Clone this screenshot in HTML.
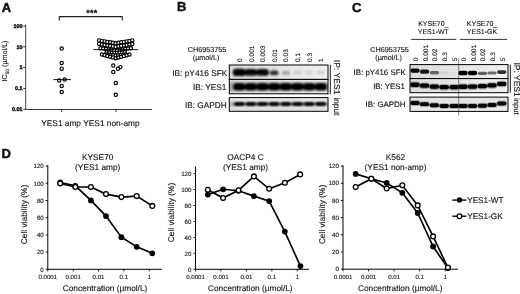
<!DOCTYPE html>
<html><head><meta charset="utf-8"><title>Figure</title>
<style>html,body{margin:0;padding:0;background:#fff;overflow:hidden}svg{display:block}text{font-family:"Liberation Sans",sans-serif;fill:#111;text-rendering:geometricPrecision}</style>
</head><body>
<svg width="520" height="294" viewBox="0 0 520 294">
<rect width="520" height="294" fill="#fff"/>
<text transform="translate(1.7 11.5)" font-size="13" text-anchor="start" font-weight="bold"  stroke="#111" stroke-width="0.45">A</text>
<text transform="translate(177.1 11.3)" font-size="13" text-anchor="start" font-weight="bold"  stroke="#111" stroke-width="0.45">B</text>
<text transform="translate(352.1 11.5)" font-size="13" text-anchor="start" font-weight="bold"  stroke="#111" stroke-width="0.45">C</text>
<text transform="translate(1.4 158.3)" font-size="13" text-anchor="start" font-weight="bold"  stroke="#111" stroke-width="0.45">D</text>
<line x1="25.7" y1="24.5" x2="25.7" y2="109.5" stroke="#444" stroke-width="1"/>
<line x1="25.7" y1="109.5" x2="152" y2="109.5" stroke="#000" stroke-width="0.8"/>
<line x1="23.2" y1="25.999999999999993" x2="25.7" y2="25.999999999999993" stroke="#000" stroke-width="0.8"/>
<text transform="translate(22.599999999999998 27.799999999999994)" font-size="5.4" text-anchor="end" font-weight="bold"  stroke="#111" stroke-width="0.4">100</text>
<line x1="23.2" y1="46.8" x2="25.7" y2="46.8" stroke="#000" stroke-width="0.8"/>
<text transform="translate(22.599999999999998 48.599999999999994)" font-size="5.4" text-anchor="end" font-weight="bold"  stroke="#111" stroke-width="0.4">10</text>
<line x1="23.2" y1="67.6" x2="25.7" y2="67.6" stroke="#000" stroke-width="0.8"/>
<text transform="translate(22.599999999999998 69.39999999999999)" font-size="5.4" text-anchor="end" font-weight="bold"  stroke="#111" stroke-width="0.4">1</text>
<line x1="23.2" y1="88.39999999999999" x2="25.7" y2="88.39999999999999" stroke="#000" stroke-width="0.8"/>
<text transform="translate(22.599999999999998 90.19999999999999)" font-size="5.4" text-anchor="end" font-weight="bold"  stroke="#111" stroke-width="0.4">0.1</text>
<line x1="23.2" y1="109.19999999999999" x2="25.7" y2="109.19999999999999" stroke="#000" stroke-width="0.8"/>
<text transform="translate(22.599999999999998 110.99999999999999)" font-size="5.4" text-anchor="end" font-weight="bold"  stroke="#111" stroke-width="0.4">0.01</text>
<line x1="61.7" y1="109.5" x2="61.7" y2="112.0" stroke="#000" stroke-width="0.8"/>
<line x1="115.9" y1="109.5" x2="115.9" y2="112.0" stroke="#000" stroke-width="0.8"/>
<text transform="translate(41.3 126.4)" font-size="8.3" text-anchor="start" font-weight="normal"  stroke="#111" stroke-width="0.12">YES1 amp</text>
<text transform="translate(83.3 126.4)" font-size="8.3" text-anchor="start" font-weight="normal"  stroke="#111" stroke-width="0.12">YES1 non-amp</text>
<text font-size="7.2" text-anchor="middle" stroke="#111" stroke-width="0.12" transform="translate(7.1 61) rotate(-90)">IC<tspan font-size="4.8" dy="1.5">50</tspan><tspan dy="-1.5"> (µmol/L)</tspan></text>
<path d="M59.3 20.6 V16.6 H122.3 V20.6" fill="none" stroke="#222" stroke-width="1.05"/>
<text transform="translate(91.9 15.9)" font-size="9" text-anchor="middle" font-weight="bold" letter-spacing="0.3" stroke="#111" stroke-width="0.15">***</text>
<circle cx="61.7" cy="48.6" r="1.65" fill="#fff" stroke="#000" stroke-width="1.15"/>
<circle cx="61.7" cy="63.0" r="1.65" fill="#fff" stroke="#000" stroke-width="1.15"/>
<circle cx="61.7" cy="68.7" r="1.65" fill="#fff" stroke="#000" stroke-width="1.15"/>
<circle cx="59.2" cy="80.5" r="1.65" fill="#fff" stroke="#000" stroke-width="1.15"/>
<circle cx="64.7" cy="79.5" r="1.65" fill="#fff" stroke="#000" stroke-width="1.15"/>
<circle cx="61.7" cy="86.0" r="1.65" fill="#fff" stroke="#000" stroke-width="1.15"/>
<circle cx="61.7" cy="92.0" r="1.65" fill="#fff" stroke="#000" stroke-width="1.15"/>
<line x1="53.4" y1="79.6" x2="71" y2="79.6" stroke="#000" stroke-width="0.9"/>
<circle cx="99.1" cy="40.4" r="1.65" fill="#fff" stroke="#000" stroke-width="1.15"/>
<circle cx="101.9" cy="40.9" r="1.65" fill="#fff" stroke="#000" stroke-width="1.15"/>
<circle cx="104.7" cy="41.4" r="1.65" fill="#fff" stroke="#000" stroke-width="1.15"/>
<circle cx="107.4" cy="41.9" r="1.65" fill="#fff" stroke="#000" stroke-width="1.15"/>
<circle cx="110.2" cy="42.3" r="1.65" fill="#fff" stroke="#000" stroke-width="1.15"/>
<circle cx="112.9" cy="42.8" r="1.65" fill="#fff" stroke="#000" stroke-width="1.15"/>
<circle cx="115.7" cy="43.3" r="1.65" fill="#fff" stroke="#000" stroke-width="1.15"/>
<circle cx="118.5" cy="42.8" r="1.65" fill="#fff" stroke="#000" stroke-width="1.15"/>
<circle cx="121.2" cy="42.3" r="1.65" fill="#fff" stroke="#000" stroke-width="1.15"/>
<circle cx="124.0" cy="41.9" r="1.65" fill="#fff" stroke="#000" stroke-width="1.15"/>
<circle cx="126.7" cy="41.4" r="1.65" fill="#fff" stroke="#000" stroke-width="1.15"/>
<circle cx="129.5" cy="40.9" r="1.65" fill="#fff" stroke="#000" stroke-width="1.15"/>
<circle cx="132.3" cy="40.4" r="1.65" fill="#fff" stroke="#000" stroke-width="1.15"/>
<circle cx="99.1" cy="44.0" r="1.65" fill="#fff" stroke="#000" stroke-width="1.15"/>
<circle cx="101.9" cy="44.5" r="1.65" fill="#fff" stroke="#000" stroke-width="1.15"/>
<circle cx="104.7" cy="45.0" r="1.65" fill="#fff" stroke="#000" stroke-width="1.15"/>
<circle cx="107.4" cy="45.5" r="1.65" fill="#fff" stroke="#000" stroke-width="1.15"/>
<circle cx="110.2" cy="45.9" r="1.65" fill="#fff" stroke="#000" stroke-width="1.15"/>
<circle cx="112.9" cy="46.4" r="1.65" fill="#fff" stroke="#000" stroke-width="1.15"/>
<circle cx="115.7" cy="46.9" r="1.65" fill="#fff" stroke="#000" stroke-width="1.15"/>
<circle cx="118.5" cy="46.4" r="1.65" fill="#fff" stroke="#000" stroke-width="1.15"/>
<circle cx="121.2" cy="45.9" r="1.65" fill="#fff" stroke="#000" stroke-width="1.15"/>
<circle cx="124.0" cy="45.5" r="1.65" fill="#fff" stroke="#000" stroke-width="1.15"/>
<circle cx="126.7" cy="45.0" r="1.65" fill="#fff" stroke="#000" stroke-width="1.15"/>
<circle cx="129.5" cy="44.5" r="1.65" fill="#fff" stroke="#000" stroke-width="1.15"/>
<circle cx="132.3" cy="44.0" r="1.65" fill="#fff" stroke="#000" stroke-width="1.15"/>
<circle cx="100.5" cy="48.2" r="1.65" fill="#fff" stroke="#000" stroke-width="1.15"/>
<circle cx="103.3" cy="48.6" r="1.65" fill="#fff" stroke="#000" stroke-width="1.15"/>
<circle cx="106.0" cy="49.1" r="1.65" fill="#fff" stroke="#000" stroke-width="1.15"/>
<circle cx="108.8" cy="49.5" r="1.65" fill="#fff" stroke="#000" stroke-width="1.15"/>
<circle cx="111.6" cy="49.9" r="1.65" fill="#fff" stroke="#000" stroke-width="1.15"/>
<circle cx="114.3" cy="50.4" r="1.65" fill="#fff" stroke="#000" stroke-width="1.15"/>
<circle cx="117.1" cy="50.4" r="1.65" fill="#fff" stroke="#000" stroke-width="1.15"/>
<circle cx="119.8" cy="49.9" r="1.65" fill="#fff" stroke="#000" stroke-width="1.15"/>
<circle cx="122.6" cy="49.5" r="1.65" fill="#fff" stroke="#000" stroke-width="1.15"/>
<circle cx="125.4" cy="49.1" r="1.65" fill="#fff" stroke="#000" stroke-width="1.15"/>
<circle cx="128.1" cy="48.6" r="1.65" fill="#fff" stroke="#000" stroke-width="1.15"/>
<circle cx="130.9" cy="48.2" r="1.65" fill="#fff" stroke="#000" stroke-width="1.15"/>
<circle cx="106.6" cy="52.3" r="1.65" fill="#fff" stroke="#000" stroke-width="1.15"/>
<circle cx="109.2" cy="52.6" r="1.65" fill="#fff" stroke="#000" stroke-width="1.15"/>
<circle cx="111.8" cy="52.8" r="1.65" fill="#fff" stroke="#000" stroke-width="1.15"/>
<circle cx="114.4" cy="53.1" r="1.65" fill="#fff" stroke="#000" stroke-width="1.15"/>
<circle cx="117.0" cy="53.1" r="1.65" fill="#fff" stroke="#000" stroke-width="1.15"/>
<circle cx="119.6" cy="52.8" r="1.65" fill="#fff" stroke="#000" stroke-width="1.15"/>
<circle cx="122.2" cy="52.6" r="1.65" fill="#fff" stroke="#000" stroke-width="1.15"/>
<circle cx="124.8" cy="52.3" r="1.65" fill="#fff" stroke="#000" stroke-width="1.15"/>
<circle cx="105.7" cy="54.4" r="1.65" fill="#fff" stroke="#000" stroke-width="1.15"/>
<circle cx="108.2" cy="54.7" r="1.65" fill="#fff" stroke="#000" stroke-width="1.15"/>
<circle cx="110.7" cy="55.0" r="1.65" fill="#fff" stroke="#000" stroke-width="1.15"/>
<circle cx="113.2" cy="55.3" r="1.65" fill="#fff" stroke="#000" stroke-width="1.15"/>
<circle cx="115.7" cy="55.6" r="1.65" fill="#fff" stroke="#000" stroke-width="1.15"/>
<circle cx="118.2" cy="55.3" r="1.65" fill="#fff" stroke="#000" stroke-width="1.15"/>
<circle cx="120.7" cy="55.0" r="1.65" fill="#fff" stroke="#000" stroke-width="1.15"/>
<circle cx="123.2" cy="54.7" r="1.65" fill="#fff" stroke="#000" stroke-width="1.15"/>
<circle cx="125.7" cy="54.4" r="1.65" fill="#fff" stroke="#000" stroke-width="1.15"/>
<circle cx="101.9" cy="54.5" r="1.65" fill="#fff" stroke="#000" stroke-width="1.15"/>
<circle cx="104.7" cy="55.3" r="1.65" fill="#fff" stroke="#000" stroke-width="1.15"/>
<circle cx="107.4" cy="56.0" r="1.65" fill="#fff" stroke="#000" stroke-width="1.15"/>
<circle cx="110.2" cy="56.8" r="1.65" fill="#fff" stroke="#000" stroke-width="1.15"/>
<circle cx="112.9" cy="57.5" r="1.65" fill="#fff" stroke="#000" stroke-width="1.15"/>
<circle cx="115.7" cy="58.3" r="1.65" fill="#fff" stroke="#000" stroke-width="1.15"/>
<circle cx="118.5" cy="57.5" r="1.65" fill="#fff" stroke="#000" stroke-width="1.15"/>
<circle cx="121.2" cy="56.8" r="1.65" fill="#fff" stroke="#000" stroke-width="1.15"/>
<circle cx="124.0" cy="56.0" r="1.65" fill="#fff" stroke="#000" stroke-width="1.15"/>
<circle cx="126.7" cy="55.3" r="1.65" fill="#fff" stroke="#000" stroke-width="1.15"/>
<circle cx="129.5" cy="54.5" r="1.65" fill="#fff" stroke="#000" stroke-width="1.15"/>
<circle cx="113.3" cy="65.6" r="1.65" fill="#fff" stroke="#000" stroke-width="1.15"/>
<circle cx="120.4" cy="67.1" r="1.65" fill="#fff" stroke="#000" stroke-width="1.15"/>
<circle cx="117.9" cy="68.8" r="1.65" fill="#fff" stroke="#000" stroke-width="1.15"/>
<circle cx="113.3" cy="71.9" r="1.65" fill="#fff" stroke="#000" stroke-width="1.15"/>
<circle cx="115.8" cy="83.0" r="1.65" fill="#fff" stroke="#000" stroke-width="1.15"/>
<circle cx="115.8" cy="94.8" r="1.65" fill="#fff" stroke="#000" stroke-width="1.15"/>
<line x1="93.2" y1="49.6" x2="138" y2="49.6" stroke="#000" stroke-width="0.9"/>
<defs>
<filter id="b1" x="-30%" y="-60%" width="160%" height="220%"><feGaussianBlur stdDeviation="1.0 0.8"/></filter>
<filter id="b2" x="-30%" y="-80%" width="160%" height="260%"><feGaussianBlur stdDeviation="0.9 0.55"/></filter>
<linearGradient id="bg1" x1="0" x2="1" y1="0" y2="0"><stop offset="0" stop-color="#dcdcdc"/><stop offset="0.5" stop-color="#e6e6e6"/><stop offset="1" stop-color="#f1f1f1"/></linearGradient>
<linearGradient id="bg2" x1="0" x2="0" y1="0" y2="1"><stop offset="0" stop-color="#e9e9e9"/><stop offset="0.5" stop-color="#d4d4d4"/><stop offset="1" stop-color="#e6e6e6"/></linearGradient>
<filter id="b3" x="-30%" y="-80%" width="160%" height="260%"><feGaussianBlur stdDeviation="0.75 0.6"/></filter>
<linearGradient id="bg3" x1="0" x2="0" y1="0" y2="1"><stop offset="0" stop-color="#e2e2e2"/><stop offset="1" stop-color="#ececec"/></linearGradient>
</defs>
<clipPath id="c229_65"><rect x="229.3" y="65" width="98.69999999999999" height="14.400000000000006"/></clipPath>
<rect x="229.3" y="65" width="98.69999999999999" height="14.400000000000006" fill="url(#bg1)"/>
<g clip-path="url(#c229_65)"><g filter="url(#b1)">
<rect x="232.7" y="68.8" width="13.2" height="7.2" rx="3.6" fill="#000" opacity="1"/>
<rect x="244.4" y="69.0" width="13" height="6.8" rx="3.4" fill="#000" opacity="0.97"/>
<rect x="256.2" y="69.0" width="12.8" height="6.8" rx="3.4" fill="#000" opacity="0.97"/>
<rect x="269.8" y="70.5" width="8.8" height="4.8" rx="2.4" fill="#000" opacity="0.8"/>
<rect x="281.6" y="71.0" width="8.5" height="3.8" rx="1.9" fill="#000" opacity="0.3"/>
<rect x="293.0" y="70.4" width="9" height="4.0" rx="2.0" fill="#000" opacity="0.12"/>
<rect x="304.6" y="70.4" width="9" height="4.0" rx="2.0" fill="#000" opacity="0.1"/>
<rect x="316.2" y="70.4" width="9" height="4.0" rx="2.0" fill="#000" opacity="0.13"/>
</g></g>
<rect x="229.3" y="65" width="98.69999999999999" height="14.400000000000006" fill="none" stroke="#000" stroke-width="1"/>
<clipPath id="c229_79"><rect x="229.3" y="79.4" width="98.69999999999999" height="14.399999999999991"/></clipPath>
<rect x="229.3" y="79.4" width="98.69999999999999" height="14.399999999999991" fill="url(#bg1)"/>
<g clip-path="url(#c229_79)"><g filter="url(#b1)">
<rect x="226.3" y="82.2" width="104.69999999999999" height="9" fill="#000" opacity="0.25"/>
<rect x="233.1" y="82.9" width="12.5" height="7.6" rx="3.8" fill="#000" opacity="1"/>
<rect x="244.7" y="82.9" width="12.5" height="7.6" rx="3.8" fill="#000" opacity="1"/>
<rect x="256.3" y="82.9" width="12.5" height="7.6" rx="3.8" fill="#000" opacity="1"/>
<rect x="267.9" y="82.9" width="12.5" height="7.6" rx="3.8" fill="#000" opacity="1"/>
<rect x="279.6" y="82.9" width="12.5" height="7.6" rx="3.8" fill="#000" opacity="1"/>
<rect x="291.2" y="82.9" width="12.5" height="7.6" rx="3.8" fill="#000" opacity="1"/>
<rect x="302.8" y="82.9" width="12.5" height="7.6" rx="3.8" fill="#000" opacity="1"/>
<rect x="314.5" y="82.9" width="12.5" height="7.6" rx="3.8" fill="#000" opacity="1"/>
</g></g>
<rect x="229.3" y="79.4" width="98.69999999999999" height="14.399999999999991" fill="none" stroke="#000" stroke-width="1"/>
<clipPath id="c229_97"><rect x="229.3" y="97.6" width="98.69999999999999" height="13.700000000000003"/></clipPath>
<rect x="229.3" y="97.6" width="98.69999999999999" height="13.700000000000003" fill="url(#bg2)"/>
<g clip-path="url(#c229_97)"><g filter="url(#b2)">
<rect x="226.3" y="101.5" width="104.69999999999999" height="5" fill="#000" opacity="0.12"/>
<rect x="233.8" y="101.3" width="11" height="5.4" rx="2.7" fill="#000" opacity="0.38"/>
<rect x="245.4" y="101.3" width="11" height="5.4" rx="2.7" fill="#000" opacity="0.38"/>
<rect x="257.1" y="101.3" width="11" height="5.4" rx="2.7" fill="#000" opacity="0.38"/>
<rect x="268.7" y="101.3" width="11" height="5.4" rx="2.7" fill="#000" opacity="0.38"/>
<rect x="280.3" y="101.3" width="11" height="5.4" rx="2.7" fill="#000" opacity="0.38"/>
<rect x="292.0" y="101.3" width="11" height="5.4" rx="2.7" fill="#000" opacity="0.38"/>
<rect x="303.6" y="101.3" width="11" height="5.4" rx="2.7" fill="#000" opacity="0.38"/>
<rect x="315.2" y="101.3" width="11" height="5.4" rx="2.7" fill="#000" opacity="0.38"/>
<rect x="234.2" y="102.6" width="10.3" height="2.8" rx="1.4" fill="#000" opacity="0.85"/>
<rect x="245.8" y="102.6" width="10.3" height="2.8" rx="1.4" fill="#000" opacity="0.85"/>
<rect x="257.4" y="102.6" width="10.3" height="2.8" rx="1.4" fill="#000" opacity="0.85"/>
<rect x="269.0" y="102.6" width="10.3" height="2.8" rx="1.4" fill="#000" opacity="0.85"/>
<rect x="280.7" y="102.6" width="10.3" height="2.8" rx="1.4" fill="#000" opacity="0.85"/>
<rect x="292.3" y="102.6" width="10.3" height="2.8" rx="1.4" fill="#000" opacity="0.85"/>
<rect x="303.9" y="102.6" width="10.3" height="2.8" rx="1.4" fill="#000" opacity="0.85"/>
<rect x="315.6" y="102.6" width="10.3" height="2.8" rx="1.4" fill="#000" opacity="0.85"/>
</g></g>
<rect x="229.3" y="97.6" width="98.69999999999999" height="13.700000000000003" fill="none" stroke="#000" stroke-width="1"/>
<text transform="translate(187.7 52)" font-size="7.25" text-anchor="start" font-weight="normal"  stroke="#111" stroke-width="0.12">CH6953755</text>
<text transform="translate(192.8 60.2)" font-size="7.2" text-anchor="start" font-weight="normal"  stroke="#111" stroke-width="0.12">(µmol/L)</text>
<text transform="translate(241.9 61.9) rotate(-90)" font-size="6.5" text-anchor="start" font-weight="normal"  stroke="#111" stroke-width="0.12">0</text>
<text transform="translate(253.53 61.9) rotate(-90)" font-size="6.5" text-anchor="start" font-weight="normal"  stroke="#111" stroke-width="0.12">0.001</text>
<text transform="translate(265.16 61.9) rotate(-90)" font-size="6.5" text-anchor="start" font-weight="normal"  stroke="#111" stroke-width="0.12">0.003</text>
<text transform="translate(276.79 61.9) rotate(-90)" font-size="6.5" text-anchor="start" font-weight="normal"  stroke="#111" stroke-width="0.12">0.01</text>
<text transform="translate(288.42 61.9) rotate(-90)" font-size="6.5" text-anchor="start" font-weight="normal"  stroke="#111" stroke-width="0.12">0.03</text>
<text transform="translate(300.05000000000007 61.9) rotate(-90)" font-size="6.5" text-anchor="start" font-weight="normal"  stroke="#111" stroke-width="0.12">0.1</text>
<text transform="translate(311.68000000000006 61.9) rotate(-90)" font-size="6.5" text-anchor="start" font-weight="normal"  stroke="#111" stroke-width="0.12">0.3</text>
<text transform="translate(323.31000000000006 61.9) rotate(-90)" font-size="6.5" text-anchor="start" font-weight="normal"  stroke="#111" stroke-width="0.12">1</text>
<text transform="translate(227.4 75.6)" font-size="8.35" text-anchor="end" font-weight="normal"  stroke="#111" stroke-width="0.12">IB: pY416 SFK</text>
<text transform="translate(226.4 89.6)" font-size="8.25" text-anchor="end" font-weight="normal"  stroke="#111" stroke-width="0.12">IB: YES1</text>
<text transform="translate(226.6 107.5)" font-size="8.25" text-anchor="end" font-weight="normal"  stroke="#111" stroke-width="0.12">IB: GAPDH</text>
<line x1="330.3" y1="64.8" x2="330.3" y2="94" stroke="#000" stroke-width="0.9"/>
<text transform="translate(334.3 59.8) rotate(90)" font-size="8.6" text-anchor="start" font-weight="normal"  stroke="#111" stroke-width="0.12">IP: YES1</text>
<text transform="translate(334.3 97.4) rotate(90)" font-size="8.3" text-anchor="start" font-weight="normal"  stroke="#111" stroke-width="0.12">input</text>
<clipPath id="c410_64"><rect x="410" y="64.6" width="98" height="14.0"/></clipPath>
<rect x="410" y="64.6" width="98" height="14.0" fill="url(#bg1)"/>
<g clip-path="url(#c410_64)"><g filter="url(#b3)">
<rect x="410.4" y="68.4" width="9.3" height="4.4" rx="2.2" fill="#000" opacity="1"/>
<rect x="419.9" y="69.6" width="9.3" height="4.2" rx="2.1" fill="#000" opacity="0.9"/>
<rect x="429.8" y="71.0" width="9.3" height="3.6" rx="1.8" fill="#000" opacity="0.55"/>
<rect x="439.6" y="71.5" width="9.3" height="3.0" rx="1.5" fill="#000" opacity="0.07"/>
<rect x="449.5" y="71.5" width="9.3" height="3.0" rx="1.5" fill="#000" opacity="0.03"/>
<rect x="458.4" y="70.8" width="9.3" height="4.4" rx="2.2" fill="#000" opacity="1"/>
<rect x="467.9" y="70.8" width="9.3" height="4.4" rx="2.2" fill="#000" opacity="1"/>
<rect x="477.8" y="71.7" width="9.3" height="3.2" rx="1.6" fill="#000" opacity="0.6"/>
<rect x="487.4" y="71.4" width="9.3" height="3.2" rx="1.6" fill="#000" opacity="0.55"/>
<rect x="497.1" y="70.3" width="9.3" height="3.6" rx="1.8" fill="#000" opacity="0.8"/>
</g></g>
<rect x="410" y="64.6" width="98" height="14.0" fill="none" stroke="#000" stroke-width="1"/>
<clipPath id="c410_78"><rect x="410" y="78.6" width="98" height="14.100000000000009"/></clipPath>
<rect x="410" y="78.6" width="98" height="14.100000000000009" fill="url(#bg1)"/>
<g clip-path="url(#c410_78)"><g filter="url(#b3)">
<rect x="409.7" y="81.5" width="10.6" height="6.5" rx="3.2" fill="#000" opacity="0.3"/>
<rect x="419.2" y="82.5" width="10.6" height="6.5" rx="3.2" fill="#000" opacity="0.3"/>
<rect x="429.1" y="83.5" width="10.6" height="6.5" rx="3.2" fill="#000" opacity="0.3"/>
<rect x="438.9" y="84.0" width="10.6" height="6.5" rx="3.2" fill="#000" opacity="0.3"/>
<rect x="448.8" y="84.0" width="10.6" height="6.5" rx="3.2" fill="#000" opacity="0.3"/>
<rect x="457.7" y="83.5" width="10.6" height="6.5" rx="3.2" fill="#000" opacity="0.3"/>
<rect x="467.2" y="83.5" width="10.6" height="6.5" rx="3.2" fill="#000" opacity="0.3"/>
<rect x="477.1" y="83.0" width="10.6" height="6.5" rx="3.2" fill="#000" opacity="0.3"/>
<rect x="486.7" y="82.2" width="10.6" height="6.5" rx="3.2" fill="#000" opacity="0.3"/>
<rect x="496.4" y="80.7" width="10.6" height="6.5" rx="3.2" fill="#000" opacity="0.3"/>
<rect x="410.2" y="82.6" width="9.5" height="4.3" rx="2.1" fill="#000" opacity="1"/>
<rect x="419.8" y="83.5" width="9.5" height="4.3" rx="2.1" fill="#000" opacity="1"/>
<rect x="429.6" y="84.5" width="9.5" height="4.3" rx="2.1" fill="#000" opacity="1"/>
<rect x="439.4" y="85.0" width="9.5" height="4.3" rx="2.1" fill="#000" opacity="1"/>
<rect x="449.4" y="85.0" width="9.5" height="4.3" rx="2.1" fill="#000" opacity="1"/>
<rect x="458.2" y="84.6" width="9.5" height="4.3" rx="2.1" fill="#000" opacity="1"/>
<rect x="467.8" y="84.5" width="9.5" height="4.3" rx="2.1" fill="#000" opacity="1"/>
<rect x="477.6" y="84.0" width="9.5" height="4.3" rx="2.1" fill="#000" opacity="1"/>
<rect x="487.2" y="83.3" width="9.5" height="4.3" rx="2.1" fill="#000" opacity="1"/>
<rect x="496.9" y="81.8" width="9.5" height="4.3" rx="2.1" fill="#000" opacity="1"/>
</g></g>
<rect x="410" y="78.6" width="98" height="14.100000000000009" fill="none" stroke="#000" stroke-width="1"/>
<clipPath id="c410_97"><rect x="410" y="97.1" width="98" height="14.300000000000011"/></clipPath>
<rect x="410" y="97.1" width="98" height="14.300000000000011" fill="url(#bg3)"/>
<g clip-path="url(#c410_97)"><g filter="url(#b3)">
<rect x="409.7" y="99.9" width="10.6" height="6.0" rx="3.0" fill="#000" opacity="0.25"/>
<rect x="419.2" y="101.2" width="10.6" height="6.0" rx="3.0" fill="#000" opacity="0.25"/>
<rect x="429.1" y="102.3" width="10.6" height="6.0" rx="3.0" fill="#000" opacity="0.25"/>
<rect x="438.9" y="102.9" width="10.6" height="6.0" rx="3.0" fill="#000" opacity="0.25"/>
<rect x="448.8" y="102.9" width="10.6" height="6.0" rx="3.0" fill="#000" opacity="0.25"/>
<rect x="457.7" y="103.0" width="10.6" height="6.0" rx="3.0" fill="#000" opacity="0.25"/>
<rect x="467.2" y="103.0" width="10.6" height="6.0" rx="3.0" fill="#000" opacity="0.25"/>
<rect x="477.1" y="102.7" width="10.6" height="6.0" rx="3.0" fill="#000" opacity="0.25"/>
<rect x="486.7" y="102.1" width="10.6" height="6.0" rx="3.0" fill="#000" opacity="0.25"/>
<rect x="496.4" y="100.5" width="10.6" height="6.0" rx="3.0" fill="#000" opacity="0.25"/>
<rect x="410.3" y="101.0" width="9.4" height="3.9" rx="1.9" fill="#000" opacity="0.97"/>
<rect x="419.8" y="102.2" width="9.4" height="3.9" rx="1.9" fill="#000" opacity="0.97"/>
<rect x="429.7" y="103.3" width="9.4" height="3.9" rx="1.9" fill="#000" opacity="0.97"/>
<rect x="439.5" y="104.0" width="9.4" height="3.9" rx="1.9" fill="#000" opacity="0.97"/>
<rect x="449.4" y="104.0" width="9.4" height="3.9" rx="1.9" fill="#000" opacity="0.97"/>
<rect x="458.3" y="104.0" width="9.4" height="3.9" rx="1.9" fill="#000" opacity="0.97"/>
<rect x="467.8" y="104.0" width="9.4" height="3.9" rx="1.9" fill="#000" opacity="0.97"/>
<rect x="477.7" y="103.8" width="9.4" height="3.9" rx="1.9" fill="#000" opacity="0.97"/>
<rect x="487.3" y="103.1" width="9.4" height="3.9" rx="1.9" fill="#000" opacity="0.97"/>
<rect x="497.0" y="101.5" width="9.4" height="3.9" rx="1.9" fill="#000" opacity="0.97"/>
</g></g>
<rect x="410" y="97.1" width="98" height="14.300000000000011" fill="none" stroke="#000" stroke-width="1"/>
<line x1="458.7" y1="58" x2="458.7" y2="115.5" stroke="#222" stroke-width="0.55"/>
<line x1="510.3" y1="64.6" x2="510.3" y2="92.6" stroke="#000" stroke-width="0.9"/>
<text transform="translate(370.2 52)" font-size="7.25" text-anchor="start" font-weight="normal"  stroke="#111" stroke-width="0.12">CH6953755</text>
<text transform="translate(375.3 59.8)" font-size="7.2" text-anchor="start" font-weight="normal"  stroke="#111" stroke-width="0.12">(µmol/L)</text>
<text transform="translate(418.0 61.3) rotate(-90)" font-size="6.55" text-anchor="start" font-weight="normal"  stroke="#111" stroke-width="0.12">0</text>
<text transform="translate(427.5 61.3) rotate(-90)" font-size="6.55" text-anchor="start" font-weight="normal"  stroke="#111" stroke-width="0.12">0.001</text>
<text transform="translate(437.4 61.3) rotate(-90)" font-size="6.55" text-anchor="start" font-weight="normal"  stroke="#111" stroke-width="0.12">0.02</text>
<text transform="translate(447.2 61.3) rotate(-90)" font-size="6.55" text-anchor="start" font-weight="normal"  stroke="#111" stroke-width="0.12">0.3</text>
<text transform="translate(457.1 61.3) rotate(-90)" font-size="6.55" text-anchor="start" font-weight="normal"  stroke="#111" stroke-width="0.12">5</text>
<text transform="translate(466.0 61.3) rotate(-90)" font-size="6.55" text-anchor="start" font-weight="normal"  stroke="#111" stroke-width="0.12">0</text>
<text transform="translate(475.5 61.3) rotate(-90)" font-size="6.55" text-anchor="start" font-weight="normal"  stroke="#111" stroke-width="0.12">0.001</text>
<text transform="translate(485.4 61.3) rotate(-90)" font-size="6.55" text-anchor="start" font-weight="normal"  stroke="#111" stroke-width="0.12">0.02</text>
<text transform="translate(495.0 61.3) rotate(-90)" font-size="6.55" text-anchor="start" font-weight="normal"  stroke="#111" stroke-width="0.12">0.3</text>
<text transform="translate(504.7 61.3) rotate(-90)" font-size="6.55" text-anchor="start" font-weight="normal"  stroke="#111" stroke-width="0.12">5</text>
<text transform="translate(433.3 26.2)" font-size="7" text-anchor="middle" font-weight="normal"  stroke="#111" stroke-width="0.12">KYSE70_</text>
<text transform="translate(433.3 34.2)" font-size="7" text-anchor="middle" font-weight="normal"  stroke="#111" stroke-width="0.12">YES1-WT</text>
<text transform="translate(482 26.2)" font-size="7" text-anchor="middle" font-weight="normal"  stroke="#111" stroke-width="0.12">KYSE70_</text>
<text transform="translate(482 34.2)" font-size="7" text-anchor="middle" font-weight="normal"  stroke="#111" stroke-width="0.12">YES1-GK</text>
<line x1="411.2" y1="39.4" x2="456.3" y2="39.4" stroke="#000" stroke-width="0.8"/>
<line x1="459.9" y1="39.4" x2="507.2" y2="39.4" stroke="#000" stroke-width="0.8"/>
<text transform="translate(405.8 74.8)" font-size="7.9" text-anchor="end" font-weight="normal"  stroke="#111" stroke-width="0.12">IB: pY416 SFK</text>
<text transform="translate(405 89.2)" font-size="7.9" text-anchor="end" font-weight="normal"  stroke="#111" stroke-width="0.12">IB: YES1</text>
<text transform="translate(405.5 107.1)" font-size="7.9" text-anchor="end" font-weight="normal"  stroke="#111" stroke-width="0.12">IB: GAPDH</text>
<text transform="translate(514.3 62.4) rotate(90)" font-size="8.5" text-anchor="start" font-weight="normal"  stroke="#111" stroke-width="0.12">IP: YES1</text>
<text transform="translate(514.3 98) rotate(90)" font-size="7.7" text-anchor="start" font-weight="normal"  stroke="#111" stroke-width="0.12">input</text>
<line x1="47.8" y1="165.1" x2="47.8" y2="269.3" stroke="#000" stroke-width="1"/>
<line x1="47.8" y1="269.3" x2="162" y2="269.3" stroke="#000" stroke-width="1"/>
<line x1="45.699999999999996" y1="269.3" x2="47.8" y2="269.3" stroke="#000" stroke-width="0.9"/>
<text transform="translate(43.8 271.5)" font-size="6.2" text-anchor="end" font-weight="normal"  stroke="#111" stroke-width="0.12">0</text>
<line x1="45.699999999999996" y1="252.10000000000002" x2="47.8" y2="252.10000000000002" stroke="#000" stroke-width="0.9"/>
<text transform="translate(43.8 254.3)" font-size="6.2" text-anchor="end" font-weight="normal"  stroke="#111" stroke-width="0.12">20</text>
<line x1="45.699999999999996" y1="234.9" x2="47.8" y2="234.9" stroke="#000" stroke-width="0.9"/>
<text transform="translate(43.8 237.1)" font-size="6.2" text-anchor="end" font-weight="normal"  stroke="#111" stroke-width="0.12">40</text>
<line x1="45.699999999999996" y1="217.7" x2="47.8" y2="217.7" stroke="#000" stroke-width="0.9"/>
<text transform="translate(43.8 219.89999999999998)" font-size="6.2" text-anchor="end" font-weight="normal"  stroke="#111" stroke-width="0.12">60</text>
<line x1="45.699999999999996" y1="200.5" x2="47.8" y2="200.5" stroke="#000" stroke-width="0.9"/>
<text transform="translate(43.8 202.7)" font-size="6.2" text-anchor="end" font-weight="normal"  stroke="#111" stroke-width="0.12">80</text>
<line x1="45.699999999999996" y1="183.3" x2="47.8" y2="183.3" stroke="#000" stroke-width="0.9"/>
<text transform="translate(43.8 185.5)" font-size="6.2" text-anchor="end" font-weight="normal"  stroke="#111" stroke-width="0.12">100</text>
<line x1="45.699999999999996" y1="166.1" x2="47.8" y2="166.1" stroke="#000" stroke-width="0.9"/>
<text transform="translate(43.8 168.29999999999998)" font-size="6.2" text-anchor="end" font-weight="normal"  stroke="#111" stroke-width="0.12">120</text>
<line x1="47.8" y1="269.3" x2="47.8" y2="271.40000000000003" stroke="#000" stroke-width="0.9"/>
<text transform="translate(47.8 278.7)" font-size="6.1" text-anchor="middle" font-weight="normal"  stroke="#111" stroke-width="0.12">0.0001</text>
<line x1="73.15" y1="269.3" x2="73.15" y2="271.40000000000003" stroke="#000" stroke-width="0.9"/>
<text transform="translate(73.15 278.7)" font-size="6.1" text-anchor="middle" font-weight="normal"  stroke="#111" stroke-width="0.12">0.001</text>
<line x1="98.5" y1="269.3" x2="98.5" y2="271.40000000000003" stroke="#000" stroke-width="0.9"/>
<text transform="translate(98.5 278.7)" font-size="6.1" text-anchor="middle" font-weight="normal"  stroke="#111" stroke-width="0.12">0.01</text>
<line x1="123.85000000000001" y1="269.3" x2="123.85000000000001" y2="271.40000000000003" stroke="#000" stroke-width="0.9"/>
<text transform="translate(123.85000000000001 278.7)" font-size="6.1" text-anchor="middle" font-weight="normal"  stroke="#111" stroke-width="0.12">0.1</text>
<line x1="149.2" y1="269.3" x2="149.2" y2="271.40000000000003" stroke="#000" stroke-width="0.9"/>
<text transform="translate(149.2 278.7)" font-size="6.1" text-anchor="middle" font-weight="normal"  stroke="#111" stroke-width="0.12">1</text>
<text transform="translate(97.7 160.1)" font-size="8.3" text-anchor="middle" font-weight="normal"  stroke="#111" stroke-width="0.12">KYSE70</text>
<text transform="translate(97.7 170)" font-size="8.3" text-anchor="middle" font-weight="normal"  stroke="#111" stroke-width="0.12">(YES1 amp)</text>
<text transform="translate(105.0 291.2)" font-size="8.3" text-anchor="middle" font-weight="normal"  stroke="#111" stroke-width="0.12">Concentration (µmol/L)</text>
<text transform="translate(27 214.5) rotate(-90)" font-size="8.35" text-anchor="middle" font-weight="normal"  stroke="#111" stroke-width="0.12">Cell viability (%)</text>
<polyline points="60.2,182.5 75.3,185.8 90.9,200.4 106.0,216.1 121.4,237.2 136.7,246.8 152.3,253.3" fill="none" stroke="#000" stroke-width="1.65"/>
<polyline points="60.2,183.5 75.3,187.0 90.9,187.0 106.0,194.1 121.4,197.1 136.7,196.1 152.3,205.9" fill="none" stroke="#000" stroke-width="1.65"/>
<circle cx="60.2" cy="182.5" r="2.9" fill="#000" stroke="#000" stroke-width="0"/>
<circle cx="75.3" cy="185.8" r="2.9" fill="#000" stroke="#000" stroke-width="0"/>
<circle cx="90.9" cy="200.4" r="2.9" fill="#000" stroke="#000" stroke-width="0"/>
<circle cx="106.0" cy="216.1" r="2.9" fill="#000" stroke="#000" stroke-width="0"/>
<circle cx="121.4" cy="237.2" r="2.9" fill="#000" stroke="#000" stroke-width="0"/>
<circle cx="136.7" cy="246.8" r="2.9" fill="#000" stroke="#000" stroke-width="0"/>
<circle cx="152.3" cy="253.3" r="2.9" fill="#000" stroke="#000" stroke-width="0"/>
<circle cx="60.2" cy="183.5" r="2.4" fill="#fff" stroke="#000" stroke-width="1.3"/>
<circle cx="75.3" cy="187.0" r="2.4" fill="#fff" stroke="#000" stroke-width="1.3"/>
<circle cx="90.9" cy="187.0" r="2.4" fill="#fff" stroke="#000" stroke-width="1.3"/>
<circle cx="106.0" cy="194.1" r="2.4" fill="#fff" stroke="#000" stroke-width="1.3"/>
<circle cx="121.4" cy="197.1" r="2.4" fill="#fff" stroke="#000" stroke-width="1.3"/>
<circle cx="136.7" cy="196.1" r="2.4" fill="#fff" stroke="#000" stroke-width="1.3"/>
<circle cx="152.3" cy="205.9" r="2.4" fill="#fff" stroke="#000" stroke-width="1.3"/>
<line x1="195.5" y1="166.4" x2="195.5" y2="269.3" stroke="#000" stroke-width="1"/>
<line x1="195.5" y1="269.3" x2="309" y2="269.3" stroke="#000" stroke-width="1"/>
<line x1="193.4" y1="269.3" x2="195.5" y2="269.3" stroke="#000" stroke-width="0.9"/>
<text transform="translate(191.5 271.5)" font-size="6.2" text-anchor="end" font-weight="normal"  stroke="#111" stroke-width="0.12">0</text>
<line x1="193.4" y1="253.35000000000002" x2="195.5" y2="253.35000000000002" stroke="#000" stroke-width="0.9"/>
<text transform="translate(191.5 255.55)" font-size="6.2" text-anchor="end" font-weight="normal"  stroke="#111" stroke-width="0.12">20</text>
<line x1="193.4" y1="237.4" x2="195.5" y2="237.4" stroke="#000" stroke-width="0.9"/>
<text transform="translate(191.5 239.6)" font-size="6.2" text-anchor="end" font-weight="normal"  stroke="#111" stroke-width="0.12">40</text>
<line x1="193.4" y1="221.45" x2="195.5" y2="221.45" stroke="#000" stroke-width="0.9"/>
<text transform="translate(191.5 223.64999999999998)" font-size="6.2" text-anchor="end" font-weight="normal"  stroke="#111" stroke-width="0.12">60</text>
<line x1="193.4" y1="205.5" x2="195.5" y2="205.5" stroke="#000" stroke-width="0.9"/>
<text transform="translate(191.5 207.7)" font-size="6.2" text-anchor="end" font-weight="normal"  stroke="#111" stroke-width="0.12">80</text>
<line x1="193.4" y1="189.55" x2="195.5" y2="189.55" stroke="#000" stroke-width="0.9"/>
<text transform="translate(191.5 191.75)" font-size="6.2" text-anchor="end" font-weight="normal"  stroke="#111" stroke-width="0.12">100</text>
<line x1="193.4" y1="173.6" x2="195.5" y2="173.6" stroke="#000" stroke-width="0.9"/>
<text transform="translate(191.5 175.79999999999998)" font-size="6.2" text-anchor="end" font-weight="normal"  stroke="#111" stroke-width="0.12">120</text>
<line x1="195.5" y1="269.3" x2="195.5" y2="271.40000000000003" stroke="#000" stroke-width="0.9"/>
<text transform="translate(195.5 278.7)" font-size="6.1" text-anchor="middle" font-weight="normal"  stroke="#111" stroke-width="0.12">0.0001</text>
<line x1="220.95" y1="269.3" x2="220.95" y2="271.40000000000003" stroke="#000" stroke-width="0.9"/>
<text transform="translate(220.95 278.7)" font-size="6.1" text-anchor="middle" font-weight="normal"  stroke="#111" stroke-width="0.12">0.001</text>
<line x1="246.4" y1="269.3" x2="246.4" y2="271.40000000000003" stroke="#000" stroke-width="0.9"/>
<text transform="translate(246.4 278.7)" font-size="6.1" text-anchor="middle" font-weight="normal"  stroke="#111" stroke-width="0.12">0.01</text>
<line x1="271.85" y1="269.3" x2="271.85" y2="271.40000000000003" stroke="#000" stroke-width="0.9"/>
<text transform="translate(271.85 278.7)" font-size="6.1" text-anchor="middle" font-weight="normal"  stroke="#111" stroke-width="0.12">0.1</text>
<line x1="297.3" y1="269.3" x2="297.3" y2="271.40000000000003" stroke="#000" stroke-width="0.9"/>
<text transform="translate(297.3 278.7)" font-size="6.1" text-anchor="middle" font-weight="normal"  stroke="#111" stroke-width="0.12">1</text>
<text transform="translate(245.5 160.1)" font-size="8.3" text-anchor="middle" font-weight="normal"  stroke="#111" stroke-width="0.12">OACP4 C</text>
<text transform="translate(245.5 170)" font-size="8.3" text-anchor="middle" font-weight="normal"  stroke="#111" stroke-width="0.12">(YES1 amp)</text>
<text transform="translate(250.3 291.2)" font-size="8.3" text-anchor="middle" font-weight="normal"  stroke="#111" stroke-width="0.12">Concentration (µmol/L)</text>
<text transform="translate(174.4 212.5) rotate(-90)" font-size="8.35" text-anchor="middle" font-weight="normal"  stroke="#111" stroke-width="0.12">Cell viability (%)</text>
<polyline points="207.8,194.6 223.1,189.3 238.5,190.8 253.9,196.1 269.2,201.1 284.8,231.6 300.4,266.1" fill="none" stroke="#000" stroke-width="1.65"/>
<polyline points="207.8,189.8 223.1,198.1 238.5,190.3 253.9,176.4 269.2,188.8 284.9,182.7 300.2,174.4" fill="none" stroke="#000" stroke-width="1.65"/>
<circle cx="207.8" cy="194.6" r="2.9" fill="#000" stroke="#000" stroke-width="0"/>
<circle cx="223.1" cy="189.3" r="2.9" fill="#000" stroke="#000" stroke-width="0"/>
<circle cx="238.5" cy="190.8" r="2.9" fill="#000" stroke="#000" stroke-width="0"/>
<circle cx="253.9" cy="196.1" r="2.9" fill="#000" stroke="#000" stroke-width="0"/>
<circle cx="269.2" cy="201.1" r="2.9" fill="#000" stroke="#000" stroke-width="0"/>
<circle cx="284.8" cy="231.6" r="2.9" fill="#000" stroke="#000" stroke-width="0"/>
<circle cx="300.4" cy="266.1" r="2.9" fill="#000" stroke="#000" stroke-width="0"/>
<circle cx="207.8" cy="189.8" r="2.4" fill="#fff" stroke="#000" stroke-width="1.3"/>
<circle cx="223.1" cy="198.1" r="2.4" fill="#fff" stroke="#000" stroke-width="1.3"/>
<circle cx="238.5" cy="190.3" r="2.4" fill="#fff" stroke="#000" stroke-width="1.3"/>
<circle cx="253.9" cy="176.4" r="2.4" fill="#fff" stroke="#000" stroke-width="1.3"/>
<circle cx="269.2" cy="188.8" r="2.4" fill="#fff" stroke="#000" stroke-width="1.3"/>
<circle cx="284.9" cy="182.7" r="2.4" fill="#fff" stroke="#000" stroke-width="1.3"/>
<circle cx="300.2" cy="174.4" r="2.4" fill="#fff" stroke="#000" stroke-width="1.3"/>
<line x1="343" y1="165.1" x2="343" y2="269.2" stroke="#000" stroke-width="1"/>
<line x1="343" y1="269.2" x2="458" y2="269.2" stroke="#000" stroke-width="1"/>
<line x1="340.9" y1="269.2" x2="343" y2="269.2" stroke="#000" stroke-width="0.9"/>
<text transform="translate(339 271.4)" font-size="6.2" text-anchor="end" font-weight="normal"  stroke="#111" stroke-width="0.12">0</text>
<line x1="340.9" y1="252.01666666666665" x2="343" y2="252.01666666666665" stroke="#000" stroke-width="0.9"/>
<text transform="translate(339 254.21666666666664)" font-size="6.2" text-anchor="end" font-weight="normal"  stroke="#111" stroke-width="0.12">20</text>
<line x1="340.9" y1="234.83333333333331" x2="343" y2="234.83333333333331" stroke="#000" stroke-width="0.9"/>
<text transform="translate(339 237.0333333333333)" font-size="6.2" text-anchor="end" font-weight="normal"  stroke="#111" stroke-width="0.12">40</text>
<line x1="340.9" y1="217.64999999999998" x2="343" y2="217.64999999999998" stroke="#000" stroke-width="0.9"/>
<text transform="translate(339 219.84999999999997)" font-size="6.2" text-anchor="end" font-weight="normal"  stroke="#111" stroke-width="0.12">60</text>
<line x1="340.9" y1="200.46666666666664" x2="343" y2="200.46666666666664" stroke="#000" stroke-width="0.9"/>
<text transform="translate(339 202.66666666666663)" font-size="6.2" text-anchor="end" font-weight="normal"  stroke="#111" stroke-width="0.12">80</text>
<line x1="340.9" y1="183.2833333333333" x2="343" y2="183.2833333333333" stroke="#000" stroke-width="0.9"/>
<text transform="translate(339 185.4833333333333)" font-size="6.2" text-anchor="end" font-weight="normal"  stroke="#111" stroke-width="0.12">100</text>
<line x1="340.9" y1="166.1" x2="343" y2="166.1" stroke="#000" stroke-width="0.9"/>
<text transform="translate(339 168.29999999999998)" font-size="6.2" text-anchor="end" font-weight="normal"  stroke="#111" stroke-width="0.12">120</text>
<line x1="343.0" y1="269.2" x2="343.0" y2="271.3" stroke="#000" stroke-width="0.9"/>
<text transform="translate(343.0 278.59999999999997)" font-size="6.1" text-anchor="middle" font-weight="normal"  stroke="#111" stroke-width="0.12">0.0001</text>
<line x1="368.55" y1="269.2" x2="368.55" y2="271.3" stroke="#000" stroke-width="0.9"/>
<text transform="translate(368.55 278.59999999999997)" font-size="6.1" text-anchor="middle" font-weight="normal"  stroke="#111" stroke-width="0.12">0.001</text>
<line x1="394.1" y1="269.2" x2="394.1" y2="271.3" stroke="#000" stroke-width="0.9"/>
<text transform="translate(394.1 278.59999999999997)" font-size="6.1" text-anchor="middle" font-weight="normal"  stroke="#111" stroke-width="0.12">0.01</text>
<line x1="419.65" y1="269.2" x2="419.65" y2="271.3" stroke="#000" stroke-width="0.9"/>
<text transform="translate(419.65 278.59999999999997)" font-size="6.1" text-anchor="middle" font-weight="normal"  stroke="#111" stroke-width="0.12">0.1</text>
<line x1="445.2" y1="269.2" x2="445.2" y2="271.3" stroke="#000" stroke-width="0.9"/>
<text transform="translate(445.2 278.59999999999997)" font-size="6.1" text-anchor="middle" font-weight="normal"  stroke="#111" stroke-width="0.12">1</text>
<text transform="translate(395.5 160.1)" font-size="8.3" text-anchor="middle" font-weight="normal"  stroke="#111" stroke-width="0.12">K562</text>
<text transform="translate(395.5 170)" font-size="8.3" text-anchor="middle" font-weight="normal"  stroke="#111" stroke-width="0.12">(YES1 non-amp)</text>
<text transform="translate(400.2 291.09999999999997)" font-size="8.3" text-anchor="middle" font-weight="normal"  stroke="#111" stroke-width="0.12">Concentration (µmol/L)</text>
<text transform="translate(324.7 214.45) rotate(-90)" font-size="8.35" text-anchor="middle" font-weight="normal"  stroke="#111" stroke-width="0.12">Cell viability (%)</text>
<polyline points="355.7,173.9 371.3,178.7 386.7,183.0 402.3,192.8 417.7,213.0 433.1,246.5 447.9,268.1" fill="none" stroke="#000" stroke-width="1.65"/>
<polyline points="355.7,187.0 371.3,178.7 386.7,188.5 402.3,185.3 417.7,205.4 433.1,236.4 447.9,267.6" fill="none" stroke="#000" stroke-width="1.65"/>
<circle cx="355.7" cy="173.9" r="2.9" fill="#000" stroke="#000" stroke-width="0"/>
<circle cx="371.3" cy="178.7" r="2.9" fill="#000" stroke="#000" stroke-width="0"/>
<circle cx="386.7" cy="183.0" r="2.9" fill="#000" stroke="#000" stroke-width="0"/>
<circle cx="402.3" cy="192.8" r="2.9" fill="#000" stroke="#000" stroke-width="0"/>
<circle cx="417.7" cy="213.0" r="2.9" fill="#000" stroke="#000" stroke-width="0"/>
<circle cx="433.1" cy="246.5" r="2.9" fill="#000" stroke="#000" stroke-width="0"/>
<circle cx="447.9" cy="268.1" r="2.9" fill="#000" stroke="#000" stroke-width="0"/>
<circle cx="355.7" cy="187.0" r="2.4" fill="#fff" stroke="#000" stroke-width="1.3"/>
<circle cx="371.3" cy="178.7" r="2.4" fill="#fff" stroke="#000" stroke-width="1.3"/>
<circle cx="386.7" cy="188.5" r="2.4" fill="#fff" stroke="#000" stroke-width="1.3"/>
<circle cx="402.3" cy="185.3" r="2.4" fill="#fff" stroke="#000" stroke-width="1.3"/>
<circle cx="417.7" cy="205.4" r="2.4" fill="#fff" stroke="#000" stroke-width="1.3"/>
<circle cx="433.1" cy="236.4" r="2.4" fill="#fff" stroke="#000" stroke-width="1.3"/>
<circle cx="447.9" cy="267.6" r="2.4" fill="#fff" stroke="#000" stroke-width="1.3"/>
<line x1="452.4" y1="200.1" x2="466.3" y2="200.1" stroke="#000" stroke-width="1.4"/>
<circle cx="459.5" cy="200.1" r="2.75" fill="#000" stroke="#000" stroke-width="0"/>
<text transform="translate(467.2 202.9)" font-size="8.2" text-anchor="start" font-weight="normal"  stroke="#111" stroke-width="0.12">YES1-WT</text>
<line x1="452.4" y1="216.2" x2="466.3" y2="216.2" stroke="#000" stroke-width="1.4"/>
<circle cx="459.5" cy="216.2" r="2.3" fill="#fff" stroke="#000" stroke-width="1.25"/>
<text transform="translate(467.2 219)" font-size="8.2" text-anchor="start" font-weight="normal"  stroke="#111" stroke-width="0.12">YES1-GK</text>
</svg>
</body></html>
